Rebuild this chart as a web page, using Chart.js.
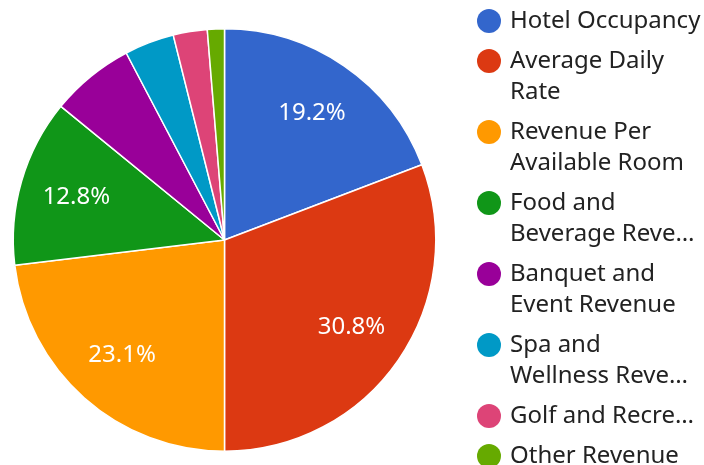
<!DOCTYPE html>
<html>
<head>
<meta charset="utf-8">
<script src="https://cdn.jsdelivr.net/npm/chart.js@4.4.1/dist/chart.umd.min.js"></script>
<style>
  html, body { margin: 0; padding: 0; background: #fff; }
  #wrap { width: 704px; height: 465px; position: relative; }
</style>
</head>
<body>
<div id="wrap"><canvas id="chart"></canvas></div>
<script>
const categories = [
    'Hotel Occupancy',
    'Average Daily Rate',
    'Revenue Per Available Room',
    'Food and Beverage Revenue',
    'Banquet and Event Revenue',
    'Spa and Wellness Revenue',
    'Golf and Recreation Revenue',
    'Other Revenue'
]
const shares = [19.2, 30.8, 23.1, 12.8, 6.4, 3.8, 2.6, 1.3]
const colors = ['#3366cc', '#dc3912', '#ff9900', '#109618', '#990099', '#0099c6', '#dd4477', '#66aa00']
// how many lines each legend entry gets before it is cut with an ellipsis
const legendLines = [2, 2, 2, 2, 2, 2, 1, 1]

const FONT = '"Noto Sans", "Open Sans", sans-serif'

const sliceLabels = {
    id: 'sliceLabels',
    afterDatasetsDraw(chart) {
        const c = chart.ctx
        const meta = chart.getDatasetMeta(0)
        const total = shares.reduce((a, b) => a + b, 0)
        c.save()
        c.fillStyle = '#fff'
        c.font = '24px ' + FONT
        c.textAlign = 'center'
        c.textBaseline = 'middle'
        meta.data.forEach((arc, i) => {
            const pct = shares[i] / total * 100
            if (pct < 10) return
            const mid = (arc.startAngle + arc.endAngle) / 2
            const r = arc.outerRadius * 0.73
            c.fillText(pct.toFixed(1) + '%', arc.x + Math.cos(mid) * r, arc.y + Math.sin(mid) * r)
        })
        c.restore()
    }
}

function wrap(c, text, maxW, maxLines) {
    const words = text.split(' ')
    const lines = []
    let cur = ''
    let i = 0
    while (i < words.length && lines.length < maxLines) {
        const test = cur ? cur + ' ' + words[i] : words[i]
        if (c.measureText(test).width <= maxW || !cur) {
            cur = test
            i++
        } else {
            lines.push(cur)
            cur = ''
        }
    }
    if (cur && lines.length < maxLines) lines.push(cur)
    if (i < words.length || c.measureText(lines[lines.length - 1]).width > maxW) {
        let last = lines[lines.length - 1]
        if (i < words.length) last = last + ' ' + words.slice(i).join(' ')
        while (last.length && c.measureText(last + '…').width > maxW) last = last.slice(0, -1)
        lines[lines.length - 1] = last.trimEnd() + '…'
    }
    return lines
}

const sideLegend = {
    id: 'sideLegend',
    afterDraw(chart) {
        const c = chart.ctx
        const x0 = 489, tx = 510, maxW = 191.5
        let y = 21
        c.save()
        c.font = '24px ' + FONT
        c.textBaseline = 'middle'
        categories.forEach((name, i) => {
            c.fillStyle = colors[i]
            c.beginPath()
            c.arc(x0, y, 12, 0, Math.PI * 2)
            c.fill()
            c.fillStyle = '#222'
            const lines = wrap(c, name, maxW, legendLines[i])
            lines.forEach((ln, k) => c.fillText(ln, tx, y + k * 31))
            y += lines.length * 31 + 9
        })
        c.restore()
    }
}

new Chart(document.getElementById('chart'), {
    type: 'pie',
    data: {
        labels: categories,
        datasets: [{
            data: shares,
            backgroundColor: colors,
            borderColor: '#fff',
            borderWidth: 1.5
        }]
    },
    options: {
        responsive: true,
        maintainAspectRatio: false,
        animation: false,
        layout: { padding: { left: 12, right: 267, top: 28, bottom: 13 } },
        plugins: {
            legend: { display: false },
            tooltip: { enabled: false }
        }
    },
    plugins: [sliceLabels, sideLegend]
})
</script>
</body>
</html>
